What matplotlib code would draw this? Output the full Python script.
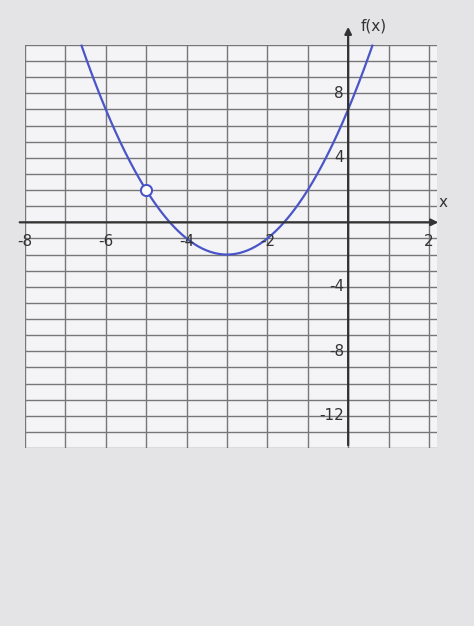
import numpy as np
import matplotlib.pyplot as plt

x_ticks = [-8, -6, -4, -2, 2]
y_ticks = [8, 4, -4, -8, -12]
hole = (-5, 2)
vertex_h, vertex_k = -3, -2

fig = plt.figure(figsize=(4.74, 6.26), dpi=100)
fig.patch.set_facecolor('#e4e4e6')
W, H = 474, 626
ax = fig.add_axes([25/W, 1-448/H, 412/W, 403/H])
ax.set_facecolor('#f4f4f6')
ax.set_xlim(-8, 2.2)
ax.set_ylim(-14, 11)
for xv in range(-8, 3):
    ax.axvline(xv, color='#777', lw=1.0, zorder=1)
for yv in range(-14, 12):
    ax.axhline(yv, color='#777', lw=1.0, zorder=1)
for s in ax.spines.values():
    s.set_visible(False)
ax.set_xticks([]); ax.set_yticks([])

xs = np.linspace(-6.6, 0.6, 300)
ys = (xs - vertex_h)**2 + vertex_k
ax.plot(xs, ys, color='#4a55c8', lw=1.6, zorder=3, clip_on=False)
ax.plot(*hole, 'o', mfc='white', mec='#4a55c8', ms=8, mew=1.5, zorder=4)

ax.annotate('', xy=(2.3, 0), xytext=(-8.2, 0), annotation_clip=False,
            arrowprops=dict(arrowstyle='-|>', color='#333', lw=1.6))
ax.annotate('', xy=(0, 12.3), xytext=(0, -14), annotation_clip=False,
            arrowprops=dict(arrowstyle='-|>', color='#333', lw=1.6))
ax.text(0.3, 12.2, 'f(x)', fontsize=11, va='center', color='#333')
ax.text(2.25, 1.2, 'x', fontsize=11, va='center', color='#333')
for t in x_ticks:
    ax.text(t, -1.2, str(t), fontsize=11, ha='center', va='center', color='#333')
for t in y_ticks:
    ax.text(-0.1, t, str(t), fontsize=11, ha='right', va='center', color='#333')
fig.savefig('out.png', dpi=100, facecolor=fig.get_facecolor())
